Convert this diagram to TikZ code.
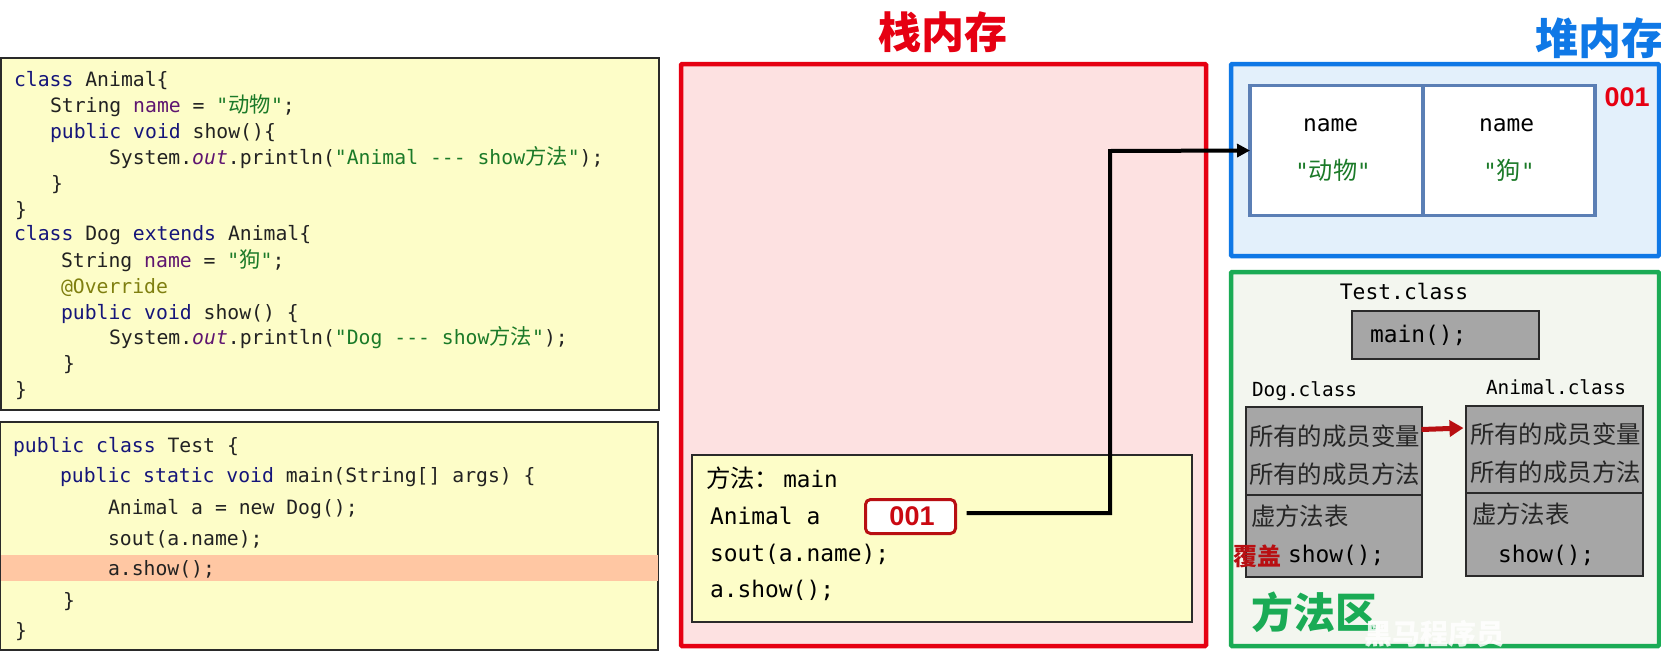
\documentclass[tikz,border=0pt]{standalone}
\usepackage{fontspec}
\setmainfont{Liberation Sans}
\setmonofont{DejaVu Sans Mono}
\newfontfamily\cjkf[Scale=1.08]{Noto Sans CJK SC}
\newfontfamily\cjkt{Noto Sans CJK SC}
\usetikzlibrary{arrows.meta}
\definecolor{paper}{HTML}{FDFDC8}
\definecolor{edgek}{HTML}{2A2A2A}
\definecolor{hilite}{HTML}{FFC7A3}
\definecolor{kwc}{HTML}{15157A}
\definecolor{fdc}{HTML}{5E1570}
\definecolor{stc}{HTML}{1B7A28}
\definecolor{anc}{HTML}{7F7F10}
\definecolor{txc}{HTML}{222222}
\definecolor{stackred}{HTML}{E60012}
\definecolor{stackfill}{HTML}{FDE1E1}
\definecolor{heapblue}{HTML}{0F78E6}
\definecolor{heapfill}{HTML}{E3F0FB}
\definecolor{objblue}{HTML}{5B7FB5}
\definecolor{methgreen}{HTML}{1AAB55}
\definecolor{methfill}{HTML}{F3F6EF}
\definecolor{grayc}{HTML}{A6A6A6}
\definecolor{darkred}{HTML}{B80F12}
\newcommand{\kw}[1]{\textcolor{kwc}{#1}}
\newcommand{\fd}[1]{\textcolor{fdc}{#1}}
\newcommand{\stg}[1]{\textcolor{stc}{#1}}
\newcommand{\cj}[1]{{\cjkf #1}}
\tikzset{
  panel/.style={draw=edgek,line width=2pt,fill=paper,anchor=north west,inner sep=0pt,outer sep=0pt},
  code/.style={anchor=west,inner sep=0pt,outer sep=0pt,text height=16pt,text depth=2pt,text=txc,
    font=\ttfamily\fontsize{19.75}{20}\selectfont},
  big/.style={code,text=black,font=\ttfamily\fontsize{22.9}{24}\selectfont},
  small/.style={code,text=black,font=\ttfamily\fontsize{19.4}{20}\selectfont},
  graybox/.style={draw=edgek,line width=2pt,fill=grayc,anchor=north west,inner sep=0pt,outer sep=0pt},
  cell/.style={draw=objblue,line width=3.5pt,fill=white,anchor=north west,inner sep=0pt,outer sep=0pt},
  area/.style={line width=4.5pt,anchor=north west,inner sep=0pt,outer sep=0pt,rounded corners=1pt},
  title/.style={inner sep=0pt,font=\cjkt\bfseries\fontsize{43}{45}\selectfont},
  memb/.style={code,text=black!85,text height=20pt,text depth=0pt,font=\cjkf\fontsize{22.6}{24}\selectfont},
  linkline/.style={line width=4pt,black,-{Triangle[length=13pt,width=13pt]},line join=miter},
  inherit/.style={line width=5pt,darkred,-{Triangle[length=14pt,width=16pt]}}
}
\begin{document}
\begin{tikzpicture}[x=1pt,y=-1pt]
\useasboundingbox (0,0) rectangle (1661,651);
\fill[white] (0,0) rectangle (1661,651);

% left code panel 1
\node[panel,minimum width=658pt,minimum height=352pt] (panelA) at (1,58) {};
\node[code] (a1) at (14,79) {\kw{class} Animal\{};
\node[code] (a2) at (50,105) {String \fd{name} = \stg{"\cj{动物}"};};
\node[code] (a3) at (50,131) {\kw{public void} show()\{};
\node[code] (a4) at (109,157) {System.\fd{\itshape out}.println(\stg{"Animal --- show\cj{方法}"});};
\node[code] (a5) at (51,183) {\}};
\node[code] (a6) at (15,209) {\}};
\node[code] (a7) at (14,233) {\kw{class} Dog \kw{extends} Animal\{};
\node[code] (a8) at (61,260) {String \fd{name} = \stg{"\cj{狗}"};};
\node[code,text=anc] (a9) at (61,286) {@Override};
\node[code] (a10) at (61,312) {\kw{public void} show() \{};
\node[code] (a11) at (109,337) {System.\fd{\itshape out}.println(\stg{"Dog --- show\cj{方法}"});};
\node[code] (a12) at (63,363) {\}};
\node[code] (a13) at (15,389) {\}};

% left code panel 2
\node[panel,minimum width=658pt,minimum height=228pt] (panelB) at (0,422) {};
\node[fill=hilite,anchor=north west,inner sep=0pt,minimum width=657pt,minimum height=26pt] (hl) at (1,555) {};
\node[code] (b1) at (13,445) {\kw{public class} Test \{};
\node[code] (b2) at (60,475) {\kw{public static void} main(String[] args) \{};
\node[code] (b3) at (108,507) {Animal a = new Dog();};
\node[code] (b4) at (108,538) {sout(a.name);};
\node[code] (b5) at (108,568) {a.show();};
\node[code] (b6) at (63,600) {\}};
\node[code] (b7) at (15,630) {\}};

% stack
\node[area,draw=stackred,fill=stackfill,minimum width=525pt,minimum height=582pt] (stack) at (681,64) {};
\node[title,text=stackred] (stackT) at (943,32) {栈内存};
\node[panel,line width=1.6pt,minimum width=500pt,minimum height=167pt] (frame) at (692,455) {};
\node[big,font=\cjkf\fontsize{22.6}{24}\selectfont] (f1) at (706,480) {方法：\,\ttfamily main};
\node[big] (f2) at (710,517) {Animal a};
\node[big] (f3) at (710,554) {sout(a.name);};
\node[big] (f4) at (710,590) {a.show();};
\node[draw=darkred,line width=3pt,fill=white,rounded corners=5pt,minimum width=90pt,minimum height=34pt,
  inner sep=0pt,outer sep=0pt,text=darkred!60!stackred,font=\bfseries\fontsize{27}{27}\selectfont] (val) at (910.5,516.5) {\hspace*{3pt}001};

% heap
\node[area,draw=heapblue,fill=heapfill,minimum width=428pt,minimum height=192pt] (heap) at (1231,64) {};
\node[title,text=heapblue,anchor=west] (heapT) at (1535,38) {堆内存};
\node[cell,minimum width=173pt,minimum height=130pt] (objA) at (1250,85.5) {};
\node[cell,minimum width=172pt,minimum height=130pt] (objB) at (1423,85.5) {};
\node[big] (n1) at (1303,124) {name};
\node[big] (n2) at (1479,124) {name};
\node[code,text=stc,font=\ttfamily\fontsize{22.4}{24}\selectfont,anchor=center] (v1) at (1333,172) {"\cj{动物}"};
\node[code,text=stc,font=\ttfamily\fontsize{22.4}{24}\selectfont,anchor=center] (v2) at (1509,172) {"\cj{狗}"};
\node[text=stackred,inner sep=0pt,font=\bfseries\fontsize{27}{27}\selectfont] (addr) at (1627,97) {001};

% method area
\node[area,draw=methgreen,fill=methfill,minimum width=428pt,minimum height=374pt] (meth) at (1231,272) {};
\node[title,text=methgreen,font=\cjkt\bfseries\fontsize{42}{44}\selectfont] (methT) at (1314,612) {方法区};
\node[big,font=\ttfamily\fontsize{21.3}{24}\selectfont,anchor=center] (t1) at (1404,292) {Test.class};
\node[graybox,minimum width=187pt,minimum height=48pt] (mainB) at (1352,310.5) {};
\node[big] (t2) at (1370,335) {main();};
\node[small] (d0) at (1252,389) {Dog.class};
\node[small] (an0) at (1486,387) {Animal.class};

\node[graybox,minimum width=176pt,minimum height=88pt] (dogU) at (1245.5,406.5) {};
\node[graybox,minimum width=176pt,minimum height=82pt] (dogL) at (1245.5,494.5) {};
\node[memb] (d1) at (1249,435) {所有的成员变量};
\node[memb] (d2) at (1249,473) {所有的成员方法};
\node[memb] (d3) at (1251,515) {虚方法表};
\node[big] (d4) at (1288,555) {show();};
\node[text=darkred,inner sep=0pt,font=\cjkt\bfseries\fontsize{24}{24}\selectfont] (over) at (1257,556) {覆盖};

\node[graybox,minimum width=177pt,minimum height=87pt] (aniU) at (1465.5,405.5) {};
\node[graybox,minimum width=177pt,minimum height=83pt] (aniL) at (1465.5,492.5) {};
\node[memb] (e1) at (1470,433) {所有的成员变量};
\node[memb] (e2) at (1470,471) {所有的成员方法};
\node[memb] (e3) at (1472,513) {虚方法表};
\node[big] (e4) at (1498,555) {show();};

% connectors
\coordinate (bend) at (1110,151);
\draw[linkline] ([xshift=11pt,yshift=3.5pt]val.east) -| (bend) -- (objA.west);
\draw[inherit] ([yshift=21pt]dogU.east) -- ([yshift=21pt,xshift=-2pt]aniU.west);

% watermark
\node[text=white,opacity=.85,inner sep=0pt,font=\cjkt\bfseries\fontsize{28}{28}\selectfont] (mark) at (1434,634) {黑马程序员};
\end{tikzpicture}
\end{document}
